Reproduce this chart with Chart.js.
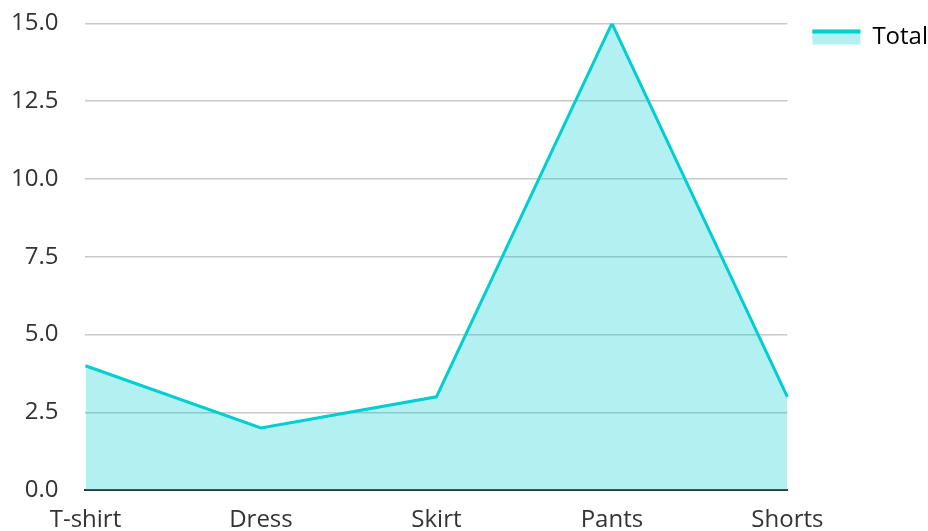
<!DOCTYPE html>
<html>
<head>
<meta charset="utf-8">
<script src="https://cdn.jsdelivr.net/npm/chart.js@4/dist/chart.umd.min.js"></script>
<style>
  html, body { margin: 0; padding: 0; background: #fff; overflow: hidden; }
  #wrap { width: 928px; height: 543px; position: relative; }
</style>
</head>
<body>
<div id="wrap"><canvas id="salesChart"></canvas></div>
<script>
var categories = ['T-shirt', 'Dress', 'Skirt', 'Pants', 'Shorts'];
var totals = [4, 2, 3, 15, 3];
var seriesLabel = 'Total';

Chart.defaults.font.family = "'Open Sans', 'Noto Sans', sans-serif";
Chart.defaults.font.size = 24;
Chart.defaults.color = '#333333';

// legend swatch: filled box with a thick line along its top edge
var legendLine = {
    id: 'legendLine',
    afterDraw: function (chart) {
        var legend = chart.legend;
        if (!legend || !legend.legendHitBoxes) return;
        var c = chart.ctx;
        legend.legendHitBoxes.forEach(function (box, i) {
            var ds = chart.data.datasets[i];
            var bw = legend.options.labels.boxWidth;
            var bh = legend.options.labels.boxHeight;
            var top = box.top + (box.height - bh) / 2;
            c.save();
            c.strokeStyle = ds.borderColor;
            c.lineWidth = 4;
            c.beginPath();
            c.moveTo(box.left, top + 2);
            c.lineTo(box.left + bw, top + 2);
            c.stroke();
            c.restore();
        });
    }
};

var ctx = document.getElementById('salesChart');
var myLineChart = new Chart(ctx, {
    type: 'line',
    data: {
        labels: categories,
        datasets: [{
            label: seriesLabel,
            data: totals,
            backgroundColor: 'rgba(0, 206, 209, 0.3)',
            borderColor: 'rgb(0, 206, 209)',
            borderWidth: 3,
            pointRadius: 0,
            pointHoverRadius: 0,
            tension: 0,
            fill: true,
        }]
    },
    options: {
        responsive: true,
        maintainAspectRatio: false,
        animation: false,
        layout: {
            padding: { top: 0, right: -10, bottom: 0, left: 2 }
        },
        plugins: {
            legend: {
                position: 'right',
                align: 'start',
                labels: {
                    boxWidth: 48,
                    boxHeight: 15,
                    padding: 25,
                    generateLabels: function (chart) {
                        return chart.data.datasets.map(function (ds, i) {
                            return {
                                text: ds.label,
                                fillStyle: ds.backgroundColor,
                                strokeStyle: 'rgba(0,0,0,0)',
                                lineWidth: 0,
                                datasetIndex: i
                            };
                        });
                    }
                }
            },
            tooltip: { enabled: false }
        },
        scales: {
            x: {
                offset: false,
                grid: { display: false },
                border: { display: true, color: '#333333', width: 2 },
                ticks: { padding: 8, maxRotation: 0 }
            },
            y: {
                beginAtZero: true,
                min: 0,
                max: 15,
                ticks: {
                    stepSize: 2.5,
                    padding: 9,
                    callback: function (v) { return v.toFixed(1); }
                },
                grid: {
                    color: '#c8c8c8',
                    lineWidth: 1.5,
                    drawTicks: true,
                    tickLength: 18,
                    tickColor: 'rgba(0,0,0,0)'
                },
                border: { display: false }
            }
        }
    },
    plugins: [legendLine]
});
</script>
</body>
</html>
